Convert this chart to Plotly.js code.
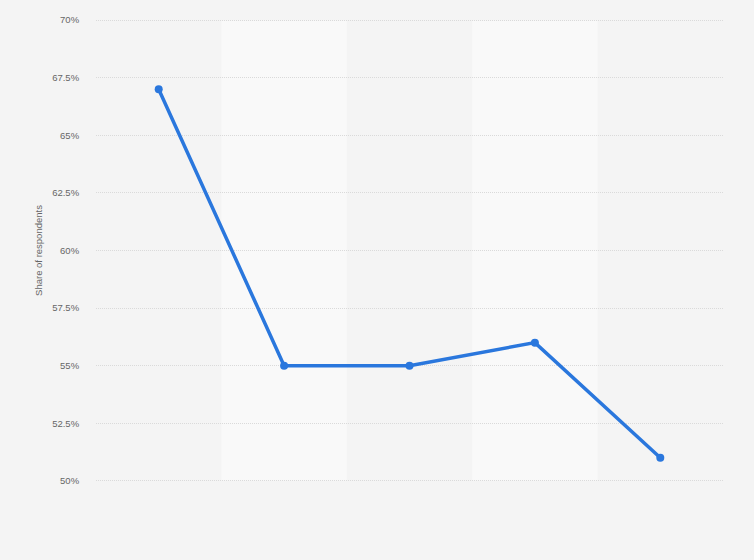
<!DOCTYPE html>
<html>
<head>
<meta charset="utf-8">
<script src="https://cdn.plot.ly/plotly-3.0.1.min.js"></script>
<style>html,body{margin:0;padding:0;background:#f4f4f4;}#chart{width:754px;height:560px;}</style>
</head>
<body>
<div id="chart"></div>
<script>
const categories = ['1', '2', '3', '4', '5'];
const shareValues = [67, 55, 55, 56, 51];
const yTickValues = [50, 52.5, 55, 57.5, 60, 62.5, 65, 67.5, 70];
const yTickLabels = ['50%', '52.5%', '55%', '57.5%', '60%', '62.5%', '65%', '67.5%', '70%'];

const shapes = [];
categories.forEach((c, i) => {
  if (i % 2 === 1) {
    shapes.push({type: 'rect', xref: 'x', yref: 'y', x0: i - 0.5, x1: i + 0.5, y0: 50, y1: 70,
      fillcolor: '#f9f9f9', line: {width: 0}, layer: 'below'});
  }
});

const trace = {
  x: categories, y: shareValues, type: 'scatter', mode: 'lines+markers',
  line: {color: '#2a77dd', width: 3.5},
  marker: {color: '#2a77dd', size: 8},
  hoverinfo: 'none'
};

const layout = {
  width: 754, height: 560,
  margin: {l: 96, r: 31, t: 19, b: 78},
  paper_bgcolor: '#f4f4f4', plot_bgcolor: '#f4f4f4',
  showlegend: false,
  shapes: shapes,
  xaxis: {type: 'category', range: [-0.5, 4.5], showticklabels: false, showgrid: false,
    zeroline: false, showline: false, ticks: ''},
  yaxis: {range: [49.95, 70.05], tickvals: yTickValues, ticktext: yTickLabels,
    showgrid: true, gridcolor: '#dadada', griddash: '1px,1px', gridwidth: 1,
    zeroline: false, showline: false, ticks: 'outside', ticklen: 14, tickcolor: 'rgba(0,0,0,0)',
    tickfont: {family: 'Liberation Sans, Arial, sans-serif', size: 9.5, color: '#666666'},
    title: {text: 'Share of respondents', standoff: 7,
      font: {family: 'Liberation Sans, Arial, sans-serif', size: 9.5, color: '#666666'}}},
  font: {family: 'Liberation Sans, Arial, sans-serif'}
};

Plotly.newPlot('chart', [trace], layout, {displayModeBar: false, staticPlot: true});
</script>
</body>
</html>
